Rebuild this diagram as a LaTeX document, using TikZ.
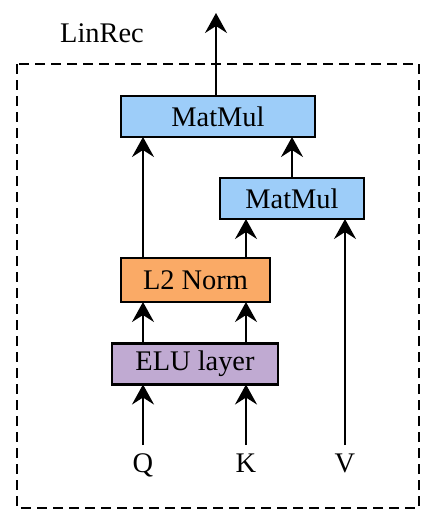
\documentclass[tikz,border=0pt]{standalone}
\usepackage{fontspec}
\setmainfont{Liberation Serif}
\usetikzlibrary{arrows.meta}

\definecolor{matblue}{RGB}{157,205,249}
\definecolor{normorange}{RGB}{250,170,102}
\definecolor{elupurple}{RGB}{192,170,210}

\begin{document}
\begin{tikzpicture}[x=0.5pt, y=-0.5pt,
    font=\fontsize{14.2}{17}\selectfont,
    block/.style={draw, line width=1.2pt, minimum height=20.5pt, inner sep=0pt, outer sep=0pt},
    flow/.style={-{Stealth[length=10pt, width=11pt, inset=3.5pt]}, line width=1.1pt},
    inlabel/.style={anchor=north, inner sep=4pt},
  ]
  \useasboundingbox (0,0) rectangle (439,525);

  % Draw frame with title
  \draw[dashed, dash pattern=on 5pt off 3pt, line width=1.1pt] (17,64) rectangle (419,508);
  \node (title) at (102,33) {LinRec};

  % Define blocks first
  \node[block, fill=matblue, minimum width=97pt] (mmtop) at (218,116.5) {MatMul};
  \node[block, fill=matblue, minimum width=72pt] (mmkv) at (292,198.5) {MatMul};
  \node[block, fill=normorange, minimum width=74.5pt, minimum height=22pt] (norm) at (195.5,280) {L2 Norm};
  \node[block, fill=elupurple, minimum width=83pt] (elu) at (195,364) {ELU layer};

  % Inputs
  \node[inlabel] (q) at (143,445) {Q};
  \node[inlabel] (k) at (246,445) {K};
  \node[inlabel] (v) at (345,445) {V};
  \coordinate (out) at (216,13);

  % Draw arrows
  \draw[flow] (q) -- (elu.south -| q);
  \draw[flow] (k) -- (elu.south -| k);
  \draw[flow] (v) -- (mmkv.south -| v);
  \draw[flow] (elu.north -| q) -- (norm.south -| q);
  \draw[flow] (elu.north -| k) -- (norm.south -| k);
  \draw[flow] (norm.north -| q) -- (mmtop.south -| q);
  \draw[flow] (norm.north -| k) -- (mmkv.south -| k);
  \draw[flow] (mmkv.north) -- (mmtop.south -| mmkv);
  \draw[flow] (mmtop.north -| out) -- (out);
\end{tikzpicture}
\end{document}
